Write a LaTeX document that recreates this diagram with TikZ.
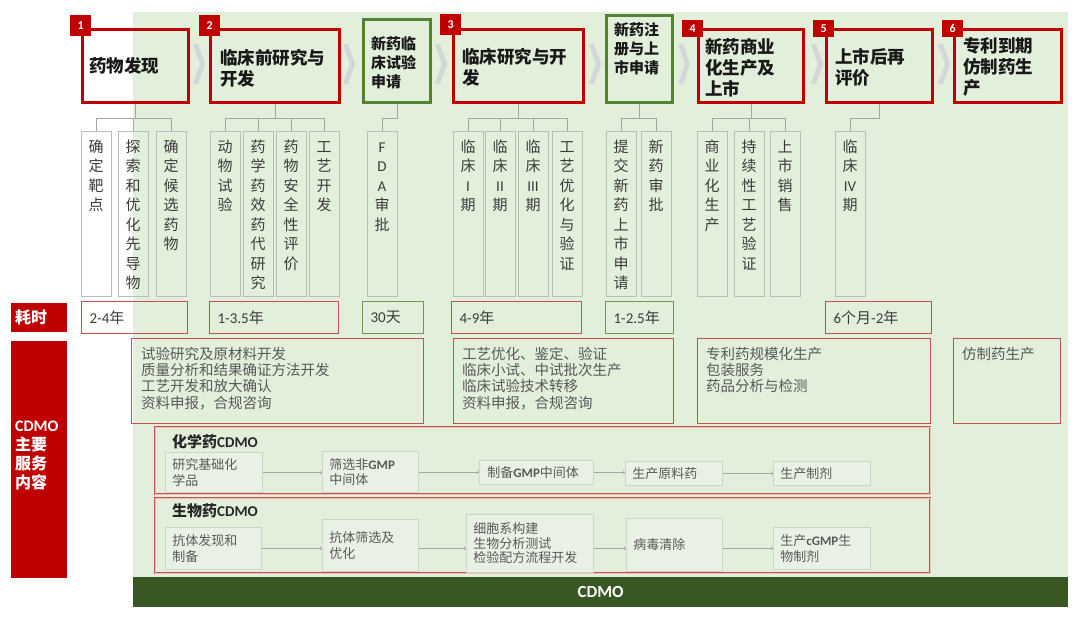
\documentclass[tikz,border=0pt]{standalone}
\usepackage{fontspec}
\setmainfont{Noto Sans CJK SC}
\newfontfamily\lat{Carlito}

\definecolor{deepred}{RGB}{192,0,0}
\definecolor{softred}{RGB}{200,80,80}
\definecolor{pinkline}{RGB}{238,190,185}
\definecolor{olive}{RGB}{84,130,53}
\definecolor{lightolive}{RGB}{115,150,85}
\definecolor{bggreen}{RGB}{226,239,218}
\definecolor{bargreen}{RGB}{56,87,35}
\definecolor{leafgray}{RGB}{185,190,185}
\definecolor{treegray}{RGB}{165,165,165}
\definecolor{chevgray}{RGB}{212,215,216}
\definecolor{txtgray}{RGB}{89,89,89}
\definecolor{darktxt}{RGB}{60,60,60}
\definecolor{stepfill}{RGB}{233,241,228}
\definecolor{stepline}{RGB}{205,213,200}

% vertical text column of a leaf box
\newcommand{\vt}[1]{\parbox[t][165pt][t]{30pt}{\centering\fontsize{15}{19.5}\selectfont\rule{0pt}{21pt}#1}}

\begin{document}
\begin{tikzpicture}[x=1pt, y=-1pt,
    redstage/.style={draw=deepred, line width=3pt, anchor=north west, inner sep=0pt},
    greenstage/.style={draw=olive, line width=3pt, anchor=north west, inner sep=0pt},
    redtitle/.style={anchor=west, align=left, inner sep=0pt, text=black!90, font=\bfseries\fontsize{17.5}{21}\selectfont},
    greentitle/.style={anchor=west, align=left, inner sep=0pt, text=black!90, font=\bfseries\fontsize{15}{19}\selectfont},
    tag/.style={fill=deepred, text=white, anchor=north west, inner sep=0pt, minimum width=21pt, font=\lat\bfseries\fontsize{12}{12}\selectfont},
    chev/.style={fill=chevgray},
    tree/.style={draw=treegray, line width=0.8pt},
    leaf/.style={draw=leafgray, line width=0.8pt, anchor=north, inner sep=0pt, text=darktxt},
    tred/.style={draw=softred, line width=1.2pt, anchor=north west, minimum height=32pt, inner xsep=8pt, align=left, text=darktxt, font=\fontsize{15}{15}\selectfont},
    tgreen/.style={tred, draw=lightolive},
    svbox/.style={draw=softred, line width=1.2pt, anchor=north west, inner sep=0pt, minimum height=85pt},
    svtext/.style={anchor=north west, align=left, inner sep=0pt, text=txtgray, font=\fontsize{14.5}{16.2}\selectfont},
    cdmobox/.style={draw=softred, double=pinkline, double distance=0.8pt, line width=0.7pt, anchor=north west, inner sep=0pt},
    cdmotitle/.style={anchor=west, inner sep=0pt, text=black!85, font=\bfseries\fontsize{15}{15}\selectfont},
    stepbox/.style={draw=stepline, fill=stepfill, line width=0.8pt, anchor=north west, inner xsep=7pt, inner ysep=0pt, align=left, text=txtgray, font=\fontsize{13}{15.5}\selectfont},
    flow/.style={draw=treegray, line width=0.6pt, ->},
    side/.style={fill=deepred, anchor=north west, inner sep=0pt, text=white, font=\bfseries\fontsize{16}{19}\selectfont}]

    \useasboundingbox (0,0) rectangle (1080,619);
    \fill[bggreen] (133,12) rectangle (1068,577);
    \coordinate (ty) at (0,118);

    % chevrons between the stages
    \foreach \cx in {193,343,435,589,678,811,938}
        \fill[chev] (\cx,44) -- (\cx+5,44) -- (\cx+12,64) -- (\cx+5,84) -- (\cx,84) -- (\cx+7,64) -- cycle;

    % stage boxes
    \node[redstage, minimum width=106pt, minimum height=73pt] (s1) at (81,28) {};
    \node[redstage, minimum width=129pt, minimum height=73pt] (s2) at (209,28) {};
    \node[greenstage, minimum width=67pt, minimum height=83pt] (g1) at (362,18) {};
    \node[redstage, minimum width=130pt, minimum height=73pt] (s3) at (452,28) {};
    \node[greenstage, minimum width=66pt, minimum height=87pt] (g2) at (605,14) {};
    \node[redstage, minimum width=105pt, minimum height=73pt] (s4) at (697,28) {};
    \node[redstage, minimum width=106pt, minimum height=73pt] (s5) at (825,28) {};
    \node[redstage, minimum width=107pt, minimum height=73pt] (s6) at (953,28) {};

    \node[tag, minimum height=21pt] (n1) at (70,15) {1};
    \node[tag, minimum height=21pt] (n2) at (199,15) {2};
    \node[tag, minimum height=21pt] (n3) at (440,14) {3};
    \node[tag, minimum height=17pt] (n4) at (682,20) {4};
    \node[tag, minimum height=17pt] (n5) at (813,20) {5};
    \node[tag, minimum height=17pt] (n6) at (942,20) {6};

    \node[redtitle] (s1t) at (89,66) {药物发现};
    \node[redtitle] (s2t) at (220,68) {临床前研究与\\开发};
    \node[greentitle] (g1t) at (371,63) {新药临\\床试验\\申请};
    \node[redtitle] (s3t) at (462,67) {临床研究与开\\发};
    \node[greentitle] (g2t) at (614,49) {新药注\\册与上\\市申请};
    \node[redtitle] (s4t) at (705,67.5) {新药商业\\化生产及\\上市};
    \node[redtitle] (s5t) at (835,67.5) {上市后再\\评价};
    \node[redtitle] (s6t) at (963,67) {专利到期\\仿制药生\\产};

    % leaf columns
    \node[leaf] (l11) at (96,131) {\vt{确\\定\\靶\\点}};
    \node[leaf] (l12) at (133,131) {\vt{探\\索\\和\\优\\化\\先\\导\\物}};
    \node[leaf] (l13) at (171,131) {\vt{确\\定\\候\\选\\药\\物}};
    \node[leaf] (l21) at (225,131) {\vt{动\\物\\试\\验}};
    \node[leaf] (l22) at (258,131) {\vt{药\\学\\药\\效\\药\\代\\研\\究}};
    \node[leaf] (l23) at (291,131) {\vt{药\\物\\安\\全\\性\\评\\价}};
    \node[leaf] (l24) at (324,131) {\vt{工\\艺\\开\\发}};
    \node[leaf] (l31) at (382,131) {\vt{{\lat F}\\{\lat D}\\{\lat A}\\审\\批}};
    \node[leaf] (l41) at (468,131) {\vt{临\\床\\{\lat I}\\期}};
    \node[leaf] (l42) at (500,131) {\vt{临\\床\\{\lat II}\\期}};
    \node[leaf] (l43) at (533,131) {\vt{临\\床\\{\lat III}\\期}};
    \node[leaf] (l44) at (567,131) {\vt{工\\艺\\优\\化\\与\\验\\证}};
    \node[leaf] (l51) at (621,131) {\vt{提\\交\\新\\药\\上\\市\\申\\请}};
    \node[leaf] (l52) at (656,131) {\vt{新\\药\\审\\批}};
    \node[leaf] (l61) at (712,131) {\vt{商\\业\\化\\生\\产}};
    \node[leaf] (l62) at (749,131) {\vt{持\\续\\性\\工\\艺\\验\\证}};
    \node[leaf] (l63) at (785,131) {\vt{上\\市\\销\\售}};
    \node[leaf] (l71) at (850,131) {\vt{临\\床\\{\lat IV}\\期}};

    \foreach \s/\l in {s1/l11,s1/l12,s1/l13,s2/l21,s2/l22,s2/l23,s2/l24,g1/l31,
                       s3/l41,s3/l42,s3/l43,s3/l44,g2/l51,g2/l52,s4/l61,s4/l62,s4/l63,s5/l71}
        \draw[tree] (\s.south) -- (\s.south |- ty) -| (\l.north);

    % duration row
    \node[side, minimum width=56pt, minimum height=29pt, text width=48pt, inner xsep=4pt, align=left] (hs) at (11,303) {耗时};
    \node[tred, text width=90pt] (t1) at (81,301) {{\lat 2-4}年};
    \node[tred, text width=113pt] (t2) at (209,301) {{\lat 1-3.5}年};
    \node[tgreen, text width=45pt] (t3) at (362,301) {{\lat 30}天};
    \node[tred, text width=114pt] (t4) at (451,301) {{\lat 4-9}年};
    \node[tgreen, text width=52pt] (t5) at (605,301) {{\lat 1-2.5}年};
    \node[tred, text width=90pt] (t6) at (825,301) {{\lat 6}个月{\lat -2}年};

    % service row
    \node[side, minimum width=56pt, minimum height=237pt] (cs) at (11,341) {};
    \node[side, align=left] (cst) at (15,421) {{\lat CDMO}\\主要\\服务\\内容};
    \node[svbox, minimum width=292pt] (sv1) at (131,338) {};
    \node[svbox, minimum width=220pt] (sv2) at (453,338) {};
    \node[svbox, minimum width=233pt] (sv3) at (697,338) {};
    \node[svbox, minimum width=107pt] (sv4) at (953,338) {};
    \node[svtext] (sv1t) at (141,347) {试验研究及原材料开发\\质量分析和结果确证方法开发\\工艺开发和放大确认\\资料申报，合规咨询};
    \node[svtext] (sv2t) at (462,347) {工艺优化、鉴定、验证\\临床小试、中试批次生产\\临床试验技术转移\\资料申报，合规咨询};
    \node[svtext] (sv3t) at (706,347) {专利药规模化生产\\包装服务\\药品分析与检测};
    \node[svtext] (sv4t) at (962,347) {仿制药生产};

    % CDMO chains
    \node[cdmobox, minimum width=775pt, minimum height=67pt] (chem) at (155,427) {};
    \node[cdmobox, minimum width=775pt, minimum height=75pt] (bio) at (155,498) {};
    \node[cdmotitle] (chemt) at (172,442) {化学药{\lat CDMO}};
    \node[cdmotitle] (biot) at (172,511) {生物药{\lat CDMO}};

    \node[stepbox, minimum height=40pt, text width=83pt] (c1) at (165,452) {研究基础化\\学品};
    \node[stepbox, minimum height=41pt, text width=82pt] (c2) at (322,451) {筛选非{\lat\bfseries GMP}\\中间体};
    \node[stepbox, minimum height=24pt, text width=98pt, inner xsep=8pt] (c3) at (479,460) {制备{\lat\bfseries GMP}中间体};
    \node[stepbox, minimum height=24pt, text width=83pt] (c4) at (625,461) {生产原料药};
    \node[stepbox, minimum height=24pt, text width=83pt] (c5) at (773,461) {生产制剂};
    \draw[flow] (c1.east) -- (c1.east -| c2.west);
    \draw[flow] (c2.east) -- (c2.east -| c3.west);
    \draw[flow] (c3.east) -- (c3.east -| c4.west);
    \draw[flow] (c4.east) -- (c4.east -| c5.west);

    \node[stepbox, minimum height=42pt, text width=82pt] (b1) at (165,527) {抗体发现和\\制备};
    \node[stepbox, minimum height=52pt, text width=82pt] (b2) at (322,519) {抗体筛选及\\优化};
    \node[stepbox, minimum height=58pt, text width=113pt, font=\fontsize{13}{14.5}\selectfont] (b3) at (466,514) {细胞系构建\\生物分析测试\\检验配方流程开发};
    \node[stepbox, minimum height=53pt, text width=82pt] (b4) at (626,518) {病毒清除};
    \node[stepbox, minimum height=42pt, text width=83pt] (b5) at (773,527) {生产{\lat\bfseries cGMP}生\\物制剂};
    \draw[flow] (b1.east) -- (b1.east -| b2.west);
    \draw[flow] (b2.east |- b1.east) -- (b1.east -| b3.west);
    \draw[flow] (b3.east |- b1.east) -- (b1.east -| b4.west);
    \draw[flow] (b4.east |- b1.east) -- (b1.east -| b5.west);

    % bottom bar
    \node[fill=bargreen, anchor=north west, minimum width=935pt, minimum height=30pt, inner sep=0pt, text=white, font=\lat\bfseries\fontsize{17}{17}\selectfont] (cdmo) at (133,577) {CDMO};
\end{tikzpicture}
\end{document}
